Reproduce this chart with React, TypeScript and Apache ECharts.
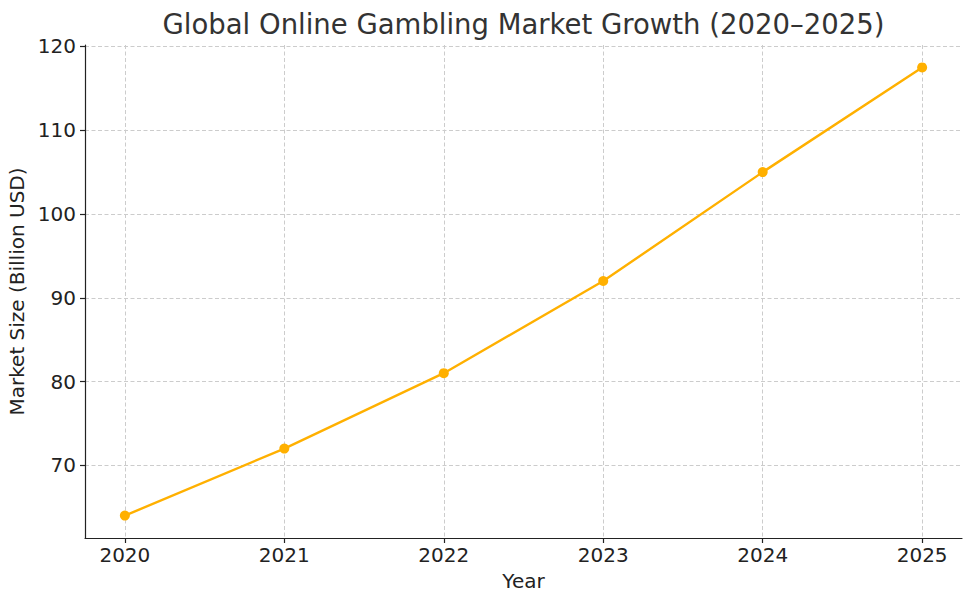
import { useEffect, useRef } from "react";
import * as echarts from "echarts";

const years = [2020, 2021, 2022, 2023, 2024, 2025];
const marketSize = [64, 72, 81, 92, 105, 117.5];
const yTicks = [70, 80, 90, 100, 110, 120];

const FONT = "DejaVu Sans";
const LINE_COLOR = "#ffb000";

// matplotlib-like 5% padding round the data
const xPad = (years[years.length - 1] - years[0]) * 0.05;
const yLo = Math.min(...marketSize);
const yHi = Math.max(...marketSize);
const yPad = (yHi - yLo) * 0.05;

const App = () => {
  const chartRef = useRef<HTMLDivElement>(null);

  useEffect(() => {
    document.body.style.margin = "0";
    const chart = echarts.init(chartRef.current, null, { renderer: "svg" });
    chart.setOption({
      animation: false,
      grid: { left: 85, right: 15, top: 45, bottom: 66, outerBoundsMode: "none" },
      graphic: [
        {
          type: "text",
          x: 523.5,
          y: 24,
          style: {
            text: "Global Online Gambling Market Growth (2020–2025)",
            fontSize: 27.5,
            fontFamily: FONT,
            fill: "#333333",
            textAlign: "center",
            textVerticalAlign: "middle",
          },
        },
      ],
      xAxis: {
        type: "value",
        min: years[0] - xPad,
        max: years[years.length - 1] + xPad,
        name: "Year",
        nameLocation: "middle",
        nameGap: 33,
        nameTextStyle: { fontSize: 20, fontFamily: FONT, color: "#222" },
        axisLine: { lineStyle: { color: "#222", width: 1.2 } },
        axisTick: {
          show: true,
          length: 5,
          customValues: years,
          lineStyle: { color: "#222", width: 1.2 },
        },
        axisLabel: {
          customValues: years,
          fontSize: 20,
          fontFamily: FONT,
          color: "#222",
          margin: 7,
          formatter: (v: number) => String(v),
        },
        splitLine: {
          show: true,
          lineStyle: { color: "#cccccc", type: [4, 2.5], width: 1 },
        },
      },
      yAxis: {
        type: "value",
        min: yLo - yPad,
        max: yHi + yPad,
        name: "Market Size (Billion USD)",
        nameLocation: "middle",
        nameGap: 51,
        nameTextStyle: { fontSize: 20, fontFamily: FONT, color: "#222" },
        axisLine: { show: true, lineStyle: { color: "#222", width: 1.2 } },
        axisTick: {
          show: true,
          length: 5,
          customValues: yTicks,
          lineStyle: { color: "#222", width: 1.2 },
        },
        axisLabel: {
          customValues: yTicks,
          fontSize: 20,
          fontFamily: FONT,
          color: "#222",
          margin: 9,
        },
        splitLine: {
          show: true,
          lineStyle: { color: "#cccccc", type: [4, 2.5], width: 1 },
        },
      },
      series: [
        {
          type: "line",
          data: years.map((y, i) => [y, marketSize[i]]),
          symbol: "circle",
          symbolSize: 10,
          lineStyle: { color: LINE_COLOR, width: 2.4 },
          itemStyle: { color: LINE_COLOR },
        },
      ],
    });
    return () => {
      chart.dispose();
    };
  }, []);

  return <div ref={chartRef} style={{ width: "977px", height: "604px" }}></div>;
};

export default App;
